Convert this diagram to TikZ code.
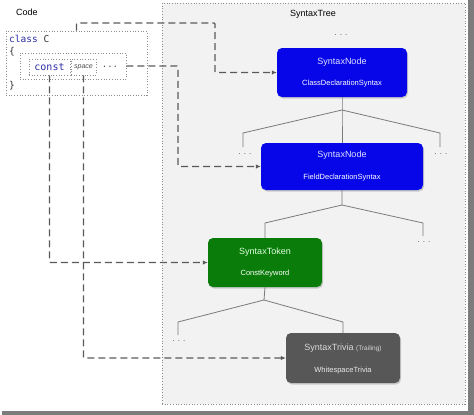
\documentclass[tikz,border=0pt]{standalone}
\usepackage{fontspec}
\setmainfont{Liberation Sans}
\newfontfamily\codefont{DejaVu Sans Mono}
\usetikzlibrary{arrows.meta,shadows}
\definecolor{panelfill}{HTML}{F2F2F2}
\definecolor{nodeblue}{HTML}{0606E8}
\definecolor{nodegreen}{HTML}{0A7C0A}
\definecolor{nodegray}{HTML}{575757}
\definecolor{codeblue}{HTML}{2B2BA6}
\definecolor{connGray}{HTML}{5A5A5A}
\definecolor{treeGray}{HTML}{7A7A7A}
\definecolor{barGray}{HTML}{7C7C7C}
\tikzset{
  synbox/.style={draw=none, rounded corners=5pt, inner sep=0pt,
    drop shadow={opacity=0.35, shadow xshift=1pt, shadow yshift=-1.5pt}},
  titletext/.style={text=white!88!blue, font=\fontsize{9}{10}\selectfont, inner sep=0pt},
  subtext/.style={text=white, font=\fontsize{7.5}{9}\selectfont, inner sep=0pt},
  treeline/.style={draw=treeGray, line width=0.8pt},
  conn/.style={draw=connGray, line width=1.1pt, dash pattern=on 7pt off 4pt, rounded corners=1pt},
  connarrow/.style={conn, -{Latex[length=5pt,width=4.5pt]}},
  dotbox/.style={draw=gray!90, dotted, line width=0.7pt, inner sep=0pt},
  dots/.style={font=\fontsize{8}{8}\selectfont, text=black!70, inner sep=0pt},
  lbl/.style={font=\fontsize{9}{10}\selectfont, inner sep=0pt}
}
\begin{document}
\begin{tikzpicture}[x=1pt,y=-1pt]
\useasboundingbox (0,0) rectangle (474,415);
% frame shadow bars
\fill[barGray] (2,411) rectangle (474,415);
\fill[barGray] (468,0) rectangle (474,415);
% syntax tree panel
\node[dotbox, fill=panelfill, minimum width=303pt, minimum height=401pt] (panel) at (313.5,203.5) {};
\node[lbl] (treelabel) at (313,14) {SyntaxTree};
\node[dots] (topdots) at (341,35) {. . .};
% code
\node[lbl] (codelabel) at (27,12) {Code};
\node[dotbox, minimum width=141pt, minimum height=64pt] (codebox) at (76.5,63) {};
\node[dotbox, minimum width=106pt, minimum height=26pt] (fieldbox) at (73,66) {};
\node[dotbox, minimum width=41pt, minimum height=16pt] (constbox) at (49.5,67) {};
\node[dotbox, minimum width=25pt, minimum height=16pt] (spacebox) at (83.5,67) {};
\node[anchor=west, inner sep=0pt, font=\codefont\fontsize{9.5}{10}\selectfont] (classline) at (9,38.5) {\textcolor{codeblue}{class} \textcolor{black!80}{C}};
\node[anchor=west, inner sep=0pt, font=\codefont\fontsize{9.5}{10}\selectfont, text=black!80] (openbrace) at (9,52) {\{};
\node[anchor=west, inner sep=0pt, font=\codefont\fontsize{9.5}{10}\selectfont, text=black!80] (closebrace) at (9,86) {\}};
\node[inner sep=0pt, font=\codefont\fontsize{10}{10}\selectfont, text=codeblue] (consttext) at (49.5,67) {const};
\node[inner sep=0pt, font=\itshape\fontsize{7}{8}\selectfont, text=black!70] (spacetext) at (83.5,67) {space};
\node[inner sep=0pt, font=\codefont\fontsize{9}{10}\selectfont, text=black!70] (codedots) at (110,67) {...};
% syntax nodes
\node[synbox, fill=nodeblue, minimum width=130pt, minimum height=49pt] (n1) at (342,72.5) {};
\node[titletext] (n1t) at (342,62) {SyntaxNode};
\node[subtext] (n1s) at (342,84) {ClassDeclarationSyntax};
\node[synbox, fill=nodeblue, minimum width=162pt, minimum height=47pt] (n2) at (342,166.5) {};
\node[titletext] (n2t) at (342,155) {SyntaxNode};
\node[subtext] (n2s) at (342,178) {FieldDeclarationSyntax};
\node[synbox, fill=nodegreen, minimum width=114pt, minimum height=49pt] (n3) at (265,262.5) {};
\node[titletext, text=white!88!green] (n3t) at (265,252) {SyntaxToken};
\node[subtext] (n3s) at (265,274) {ConstKeyword};
\node[synbox, fill=nodegray, minimum width=114pt, minimum height=50pt] (n4) at (343,358) {};
\node[titletext, text=white!85!black] (n4t) at (343,348) {SyntaxTrivia {\fontsize{6.5}{8}\selectfont(Trailing)}};
\node[subtext, text=white!92!black] (n4s) at (343,371) {WhitespaceTrivia};
% tree lines
\coordinate (b1) at (342,110);
\coordinate (b2) at (342,205);
\coordinate (b3) at (264,300);
\node[dots] (d1l) at (245,154) {. . .};
\node[dots] (d1r) at (441,154) {. . .};
\node[dots] (d2r) at (424,242) {. . .};
\node[dots] (d3l) at (179,341) {. . .};
\draw[treeline] (n1.south) -- (b1) -- (n2.north);
\draw[treeline] (b1) -- (243,133) -- (243,147);
\draw[treeline] (b1) -- (440,133) -- (440,147);
\draw[treeline] (n2.south) -- (b2) -- (265,223) -- (n3.north);
\draw[treeline] (b2) -- (423,223) -- (423,236);
\draw[treeline] (n3.south) -- (b3) -- (178,322) -- (178,335);
\draw[treeline] (b3) -- (343,322) -- (n4.north);
% dashed connectors
\coordinate (c1) at (215,23);
\coordinate (c2) at (178,66);
\draw[connarrow] (codebox.north) |- (c1) |- (n1.west);
\draw[connarrow] (fieldbox.east) -- (c2) |- (n2.west);
\draw[connarrow] (constbox.south) |- (n3.west);
\draw[connarrow] (spacebox.south) |- (n4.west);
\end{tikzpicture}
\end{document}
